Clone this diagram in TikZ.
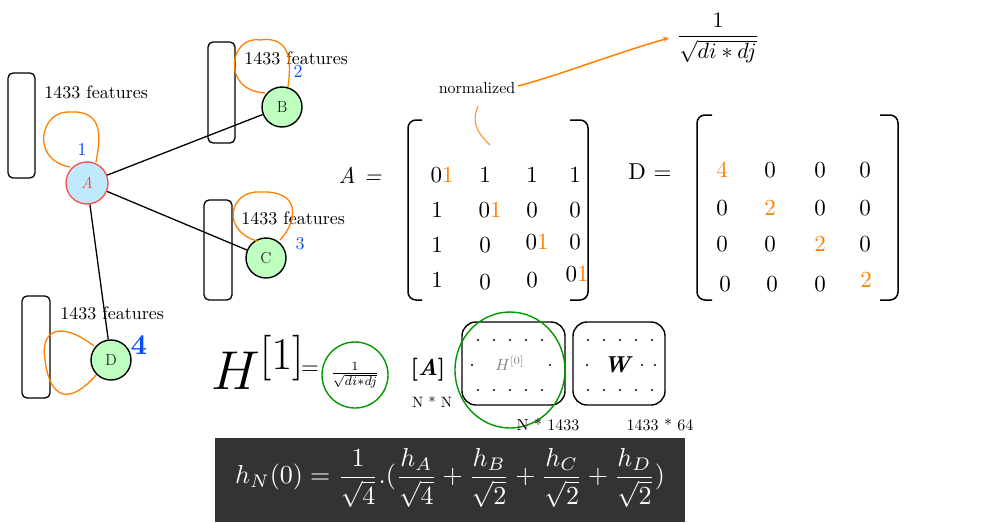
\documentclass[tikz,border=0pt]{standalone}
\usepackage{amsmath}
\begin{document}
\begin{tikzpicture}[x=1pt,y=-1pt,
  feat/.style={draw,line width=1.3pt,rounded corners=5pt},
  gnode/.style={circle,draw,line width=1.4pt,fill=green!25,minimum size=40pt,inner sep=0pt,font=\fontsize{16}{18}\selectfont},
  lbl/.style={anchor=west,scale=1.8},
  loop/.style={draw=orange,line width=1.3pt},
  num/.style={text=blue!70!cyan,scale=1.8},
  ent/.style={scale=2.3},
  oent/.style={scale=2.3,text=orange},
  brk/.style={draw,line width=1.5pt,rounded corners=8pt}]
\useasboundingbox (0,0) rectangle (992,522);
% feature bars
\draw[feat] (8,73) rectangle (35,178);
\draw[feat] (208,42) rectangle (235,143);
\draw[feat] (204,200) rectangle (232,300);
\draw[feat] (22,296) rectangle (50,398);
\node[lbl] (fa) at (38,92) {1433 features};
\node[lbl] (fb) at (238,58) {1433 features};
\node[lbl] (fc) at (235,218) {1433 features};
\node[lbl] (fd) at (54,313) {1433 features};
% nodes
\node[circle,draw=red!70,line width=1.3pt,fill=cyan!25,minimum size=42pt,inner sep=0pt,text=red!80,font=\fontsize{16}{18}\selectfont\itshape] (A) at (87,183) {A};
\node[gnode] (B) at (282,107) {B};
\node[gnode] (C) at (266,258) {C};
\node[gnode] (D) at (111,360) {D};
\draw[line width=1.3pt] (A) -- (B);
\draw[line width=1.3pt] (A) -- (C);
\draw[line width=1.3pt] (A) -- (D);
% loops
\draw[loop] (70,167) .. controls (30,160) and (40,110) .. (70,112) .. controls (105,110) and (100,140) .. (96,162);
\draw[loop] (265,93) .. controls (220,90) and (230,35) .. (260,40) .. controls (295,35) and (290,70) .. (288,87);
\draw[loop] (257,241) .. controls (220,230) and (230,190) .. (260,192) .. controls (305,190) and (295,225) .. (280,240);
\draw[loop] (94,346) .. controls (60,320) and (40,330) .. (45,360) .. controls (50,400) and (70,405) .. (96,375);
\node[num] (n1) at (82,150) {1};
\node[num] (n2) at (298,72) {2};
\node[num] (n3) at (300,244) {3};
\node[num,scale=1.6,font=\bfseries] (n4) at (139,345) {4};
% A matrix
\node[scale=2.3,font=\itshape] (Aeq) at (360,175) {A =};
\draw[brk] (422,120) -- (408,120) -- (408,300) -- (422,300);
\draw[brk] (570,120) -- (588,120) -- (588,300) -- (570,300);
\node[ent] at (442,175) {0\textcolor{orange}{1}};
\node[ent] at (485,175) {1};\node[ent] at (532,175) {1};\node[ent] at (575,175) {1};
\node[ent] at (437,210) {1};\node[ent] at (490,210) {0\textcolor{orange}{1}};\node[ent] at (532,210) {0};\node[ent] at (575,210) {0};
\node[ent] at (437,245) {1};\node[ent] at (485,245) {0};\node[ent] at (537,242) {0\textcolor{orange}{1}};\node[ent] at (575,242) {0};
\node[ent] at (437,280) {1};\node[ent] at (485,282) {0};\node[ent] at (532,280) {0};\node[ent] at (577,274) {0\textcolor{orange}{1}};
% normalized
\node[scale=1.6] (norm) at (477,88) {normalized};
\draw[line width=1.2pt,orange!80] (478,106) .. controls (470,125) and (480,135) .. (490,145);
\node[scale=2.2] (frac) at (718,38) {$\dfrac{1}{\sqrt{di * dj}}$};
\draw[line width=1.5pt,orange,-stealth] (518,86) .. controls (560,75) and (610,55) .. (frac.west);
% D matrix
\node[scale=2.3] (Deq) at (650,172) {D =};
\draw[brk] (712,115) -- (697,115) -- (697,300) -- (712,300);
\draw[brk] (880,115) -- (898,115) -- (898,300) -- (880,300);
\node[oent] at (722,170) {4};\node[ent] at (770,170) {0};\node[ent] at (820,170) {0};\node[ent] at (865,170) {0};
\node[ent] at (722,208) {0};\node[oent] at (770,208) {2};\node[ent] at (820,208) {0};\node[ent] at (865,208) {0};
\node[ent] at (722,244) {0};\node[oent] at (820,244) {2};\node[ent] at (770,244) {0};\node[ent] at (865,244) {0};
\node[ent] at (725,284) {0};\node[ent] at (772,284) {0};\node[ent] at (820,284) {0};\node[oent] at (866,280) {2};
% H equation
\node[scale=2.2,font=\Huge] (H1) at (258,362) {$H^{[1]}$};
\node[scale=2.3] (eq) at (310,370) {=};
\node[scale=1.8] (fr2) at (355,375) {$\frac{1}{\sqrt{di * dj}}$};
\draw[green!60!black,line width=1.4pt] (355,375) circle (33);
\node[scale=2.3,font=\bfseries] (brA) at (428,370) {[\textit{A}]};
\node[scale=1.5] (nn) at (432,402) {N * N};
\draw[line width=1.4pt,rounded corners=14pt] (462,322) rectangle (565,405);
\draw[line width=1.4pt,rounded corners=14pt] (573,322) rectangle (665,405);
\foreach \x in {478,494,510,526,542}{\fill (\x,340) circle (1.1); \fill (\x,390) circle (1.1);}
\fill (472,365) circle (1.1); \fill (550,365) circle (1.1);
\foreach \x in {588,604,620,636,652}{\fill (\x,340) circle (1.1); \fill (\x,390) circle (1.1);}
\fill (587,365) circle (1.1); \fill (642,365) circle (1.1); \fill (655,365) circle (1.1);
\node[text=gray,scale=1.6] (H0) at (510,363) {$H^{[0]}$};
\node[scale=2.3,font=\bfseries\itshape] (W) at (617,365) {W};
\draw[green!60!black,line width=1.4pt] (510,370) ellipse (55 and 58);
\node[scale=1.6] (n1433) at (548,425) {N * 1433};
\node[scale=1.6] (n64) at (660,425) {1433 * 64};
% formula box
\fill[black!80] (215,438) rectangle (685,522);
\node[text=white,scale=2.6] (form) at (450,478) {$h_N(0)=\dfrac{1}{\sqrt{4}}.(\dfrac{h_A}{\sqrt{4}}+\dfrac{h_B}{\sqrt{2}}+\dfrac{h_C}{\sqrt{2}}+\dfrac{h_D}{\sqrt{2}})$};
\end{tikzpicture}
\end{document}
